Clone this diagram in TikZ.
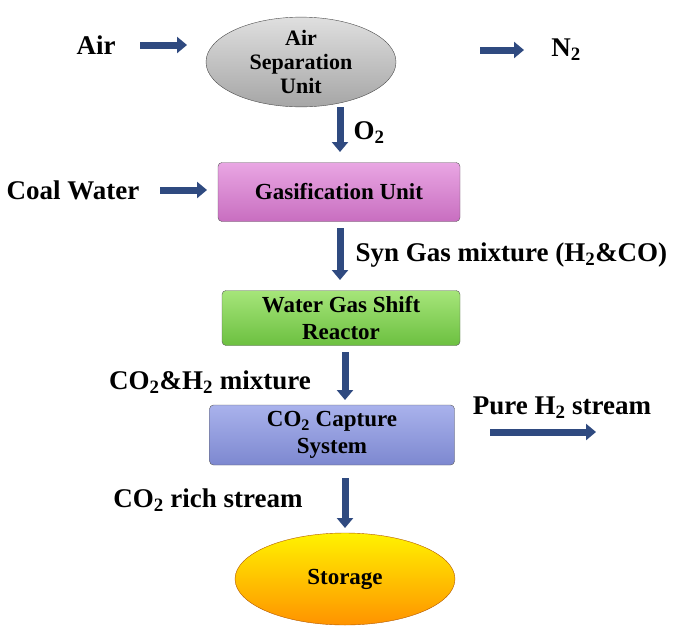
\documentclass[tikz,border=0pt]{standalone}
\usepackage{fontspec}
\setmainfont{Liberation Serif}
\usetikzlibrary{shapes.geometric,arrows.meta}
\definecolor{arr}{HTML}{2F4A80}
\definecolor{pinkA}{HTML}{E9A6E3}
\definecolor{pinkB}{HTML}{C86EC0}
\definecolor{grnA}{HTML}{A6E57A}
\definecolor{grnB}{HTML}{6CC040}
\definecolor{bluA}{HTML}{A9B2EC}
\definecolor{bluB}{HTML}{7D88D0}
\tikzset{
  blk/.style={line width=7pt,arr,-{Triangle[width=16pt,length=10pt]}},
  lbl/.style={font=\bfseries\fontsize{27}{29}\selectfont},
  boxx/.style={draw=gray!70!black,rounded corners=4pt,font=\bfseries\fontsize{23}{27}\selectfont,align=center}
}
\begin{document}
\begin{tikzpicture}[x=1pt,y=-1pt]
\useasboundingbox (0,0) rectangle (685,632);
\node[ellipse,draw=gray!60!black,top color=gray!25,bottom color=gray!70,minimum width=190pt,minimum height=76pt,inner sep=0pt,font=\bfseries\fontsize{22}{24}\selectfont,align=center] (asu) at (301,62) {Air\\Separation\\Unit};
\node[boxx,top color=pinkA,bottom color=pinkB,minimum width=242pt,minimum height=59pt] (gas) at (339,192) {\raisebox{-8pt}{Gasification Unit}};
\node[boxx,top color=grnA,bottom color=grnB,minimum width=238pt,minimum height=55pt] (wgs) at (341,318) {Water Gas Shift\\Reactor};
\node[boxx,top color=bluA,bottom color=bluB,minimum width=245pt,minimum height=60pt] (ccs) at (332,435) {CO\textsubscript{2} Capture\\System};
\node[ellipse,draw=orange!70!black,top color=yellow!90!orange,bottom color=orange!85!yellow,minimum width=220pt,minimum height=92pt,font=\bfseries\fontsize{23}{25}\selectfont] (st) at (345,579) {Storage};
\node[lbl] (air) at (96,45) {Air};
\coordinate (a1) at (140,45); \coordinate (a2) at (187,45);
\draw[blk] (a1) -- (a2);
\coordinate (n1) at (480,50); \coordinate (n2) at (524,50);
\draw[blk] (n1) -- (n2);
\node[lbl] (n2l) at (566,50) {N\textsubscript{2}};
\coordinate (o1) at (340,107); \coordinate (o2) at (340,152);
\draw[blk] (o1) -- (o2);
\node[lbl,anchor=west] (o2l) at (350,133) {O\textsubscript{2}};
\node[lbl] (coal) at (73,190) {Coal Water};
\coordinate (c1) at (160,190); \coordinate (c2) at (207,190);
\draw[blk] (c1) -- (c2);
\coordinate (s1) at (340,228); \coordinate (s2) at (340,280);
\draw[blk] (s1) -- (s2);
\node[lbl,anchor=west] (syn) at (352,255) {Syn Gas mixture (H\textsubscript{2}\&CO)};
\coordinate (w1) at (345,352); \coordinate (w2) at (345,400);
\draw[blk] (w1) -- (w2);
\node[lbl] (mix) at (210,382) {CO\textsubscript{2}\&H\textsubscript{2} mixture};
\coordinate (p1) at (490,432); \coordinate (p2) at (596,432);
\draw[blk] (p1) -- (p2);
\node[lbl] (pure) at (562,408) {Pure H\textsubscript{2} stream};
\coordinate (r1) at (345,478); \coordinate (r2) at (345,528);
\draw[blk] (r1) -- (r2);
\node[lbl] (rich) at (208,500) {CO\textsubscript{2} rich stream};
\end{tikzpicture}
\end{document}
